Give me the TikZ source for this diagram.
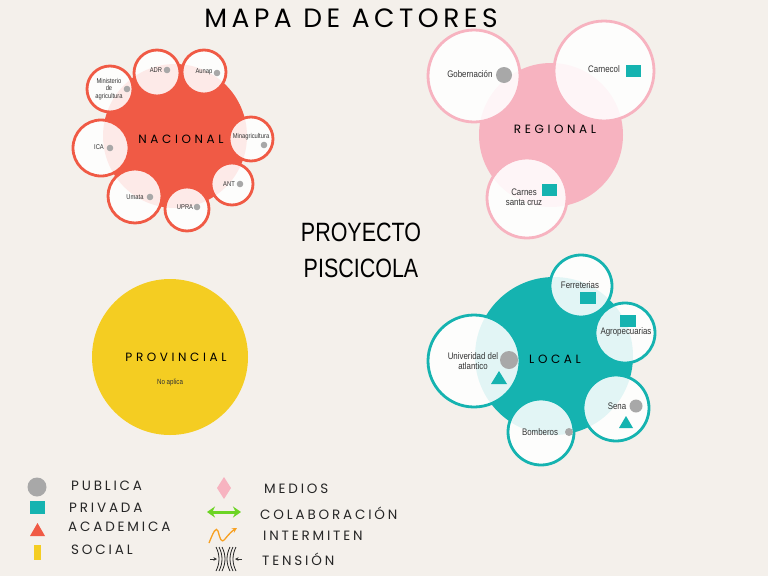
\documentclass[tikz,border=0pt]{standalone}
\usepackage{fontspec}
\setmainfont{Liberation Sans}
\newfontfamily\titlefont[LetterSpace=17]{Poppins}
\newfontfamily\levelfont[LetterSpace=30]{Poppins}
\newfontfamily\legendfont[LetterSpace=21]{Poppins}
\newfontfamily\narrowfont[FakeStretch=0.83]{Liberation Sans}
\newfontfamily\projfont[FakeStretch=0.81]{Liberation Sans}
\usetikzlibrary{arrows.meta}

\definecolor{fondo}{HTML}{F4F0EB}
\definecolor{rojo}{HTML}{F05A45}
\definecolor{rosa}{HTML}{F7B3C0}
\definecolor{turq}{HTML}{15B3B0}
\definecolor{amarillo}{HTML}{F4CD22}
\definecolor{gris}{HTML}{A8A8A8}
\definecolor{verde}{HTML}{6CD424}
\definecolor{naranja}{HTML}{F7A021}

\tikzset{
  level/.style={circle, fill=#1, inner sep=0pt},
  actor/.style={circle, draw=#1, line width=2.8pt, fill=white, fill opacity=0.88, inner sep=0pt},
  leveltext/.style={font=\levelfont\fontsize{12}{12}\selectfont, text=black},
  nactext/.style={font=\narrowfont\fontsize{7}{7.5}\selectfont, align=center, text=black!80},
  actortext/.style={font=\narrowfont\fontsize{9.5}{10}\selectfont, align=center, text=black!80},
  legendtext/.style={font=\legendfont\fontsize{13.5}{14}\selectfont, anchor=west, inner sep=0pt, text=black!85},
}

\begin{document}
\begin{tikzpicture}[x=1pt, y=-1pt]
  \fill[fondo] (0,0) rectangle (768,576);
  \useasboundingbox (0,0) rectangle (768,576);

  % Title
  \node[font=\titlefont\fontsize{26.5}{26.5}\selectfont] (titulo) at (351,18) {MAPA DE ACTORES};
  \node[font=\projfont\fontsize{26.5}{36}\selectfont, align=center] (proyecto) at (361,250) {PROYECTO\\PISCICOLA};

  % Nacional
  \node[level=rojo, minimum size=144pt] (nacional) at (175,136) {};
  \node[actor=rojo, minimum size=46pt] (ministerio) at (110,89) {};
  \node[actor=rojo, minimum size=46pt] (adr) at (157,73) {};
  \node[actor=rojo, minimum size=44pt] (aunap) at (204,72) {};
  \node[actor=rojo, minimum size=44pt] (minagri) at (251,139) {};
  \node[actor=rojo, minimum size=42pt] (ant) at (232,184) {};
  \node[actor=rojo, minimum size=44pt] (upra) at (187,209) {};
  \node[actor=rojo, minimum size=54pt] (umata) at (135,196) {};
  \node[actor=rojo, minimum size=56pt] (ica) at (101,148) {};
  \node[leveltext] (nactxt) at (181,139) {NACIONAL};
  \node[nactext] (ministeriotxt) at (109,89) {Ministerio\\de\\agricultura};
  \node[nactext] (adrtxt) at (156,70) {ADR};
  \node[nactext] (aunaptxt) at (204,72) {Aunap};
  \node[nactext] (minagritxt) at (251,137) {Minagricultura};
  \node[nactext] (anttxt) at (229,184) {ANT};
  \node[nactext] (upratxt) at (185,207) {UPRA};
  \node[nactext] (umatatxt) at (135,197) {Umata};
  \node[nactext] (icatxt) at (99,147) {ICA};
  \foreach \x/\y in {127/89, 167/70, 217/73, 264/145, 240/184, 197/207, 150/197, 110/148}
    \fill[gris] (\x,\y) circle (3.3pt);

  % Regional
  \node[level=rosa, minimum size=144pt] (regional) at (551,135) {};
  \node[actor=rosa, minimum size=92pt] (gobernacion) at (474,76) {};
  \node[actor=rosa, minimum size=100pt] (carnecol) at (604,71) {};
  \node[actor=rosa, minimum size=80pt] (santacruz) at (527,198) {};
  \node[leveltext] (regtxt) at (555,129) {REGIONAL};
  \node[actortext, anchor=east] (gobernaciontxt) at (496,74) {Gobernación};
  \node[actortext] (carnecoltxt) at (604,69) {Carnecol};
  \node[actortext] (santacruztxt) at (524,197) {Carnes\\santa cruz};
  \fill[gris] (504,75) circle (8pt);
  \fill[turq] (626,65) rectangle (641,77);
  \fill[turq] (542,184) rectangle (557,196);

  % Provincial
  \node[level=amarillo, minimum size=156pt] (provincial) at (170,357) {};
  \node[leveltext] (provtxt) at (176,357) {PROVINCIAL};
  \node[font=\narrowfont\fontsize{7.5}{8}\selectfont, text=black!80] (noaplica) at (170,383) {No aplica};

  % Local
  \node[level=turq, minimum size=158pt] (local) at (554,356) {};
  \node[actor=turq, minimum size=62pt] (ferreterias) at (581,286) {};
  \node[actor=turq, minimum size=60pt] (agropecuarias) at (625,333) {};
  \node[actor=turq, minimum size=92pt] (uniatlantico) at (474,361) {};
  \node[actor=turq, minimum size=66pt] (sena) at (616,408) {};
  \node[actor=turq, minimum size=66pt] (bomberos) at (541,432) {};
  \node[leveltext] (loctxt) at (555,359) {LOCAL};
  \node[actortext] (ferreteriastxt) at (580,285) {Ferreterias};
  \node[actortext] (agropecuariastxt) at (626,332) {Agropecuarias};
  \node[actortext] (uniatlanticotxt) at (473,361) {Univeridad del\\atlantico};
  \node[actortext] (senatxt) at (617,406) {Sena};
  \node[actortext] (bomberostxt) at (540,432) {Bomberos};
  \fill[turq] (580,292) rectangle (596,304);
  \fill[turq] (620,315) rectangle (636,327);
  \fill[gris] (509,360) circle (9pt);
  \fill[turq] (491,384) -- (499,371) -- (507,384) -- cycle;
  \fill[gris] (636,406) circle (6.5pt);
  \fill[turq] (619,428) -- (626,416) -- (633,428) -- cycle;
  \fill[gris] (569,432) circle (4pt);

  % Legend
  \fill[gris] (37,487) circle (9.5pt);
  \fill[turq] (30,501) rectangle (45,514);
  \fill[rojo] (30,536) -- (37.5,523) -- (45,536) -- cycle;
  \fill[amarillo] (34,545) rectangle (41,560);
  \node[legendtext] (publica) at (71,486) {PUBLICA};
  \node[legendtext] (privada) at (69,508) {PRIVADA};
  \node[legendtext] (academica) at (68,527) {ACADEMICA};
  \node[legendtext] (social) at (71,550) {SOCIAL};

  \fill[rosa] (224,477) -- (231,488) -- (224,499) -- (217,488) -- cycle;
  \coordinate (colA) at (207,512);
  \coordinate (colB) at (241,512);
  \draw[verde, line width=3pt, {Stealth[length=8pt, width=11pt]}-{Stealth[length=8pt, width=11pt]}] (colA) -- (colB);
  \coordinate (intA) at (209,543);
  \coordinate (intB) at (237,528);
  \draw[naranja, line width=1.3pt, -{Stealth[length=5pt, width=5pt]}] (intA) .. controls (213,533) and (216,526) .. (218,531) .. controls (220,538) and (221,544) .. (225,539) .. controls (229,534) and (232,531) .. (intB);
  \coordinate (tenA) at (210,559);
  \coordinate (tenB) at (242,559);
  \draw[black!80, line width=0.8pt, -{Stealth[length=3.5pt, width=3.5pt]}] (tenA) -- (217,559);
  \draw[black!80, line width=0.8pt, -{Stealth[length=3.5pt, width=3.5pt]}] (tenB) -- (235,559);
  \foreach \dx in {0,3,6}
    \draw[black!85, line width=0.8pt] (216+\dx,547) .. controls (220+\dx,555) and (220+\dx,563) .. (216+\dx,571);
  \foreach \dx in {0,3,6}
    \draw[black!85, line width=0.8pt] (236-\dx,547) .. controls (232-\dx,555) and (232-\dx,563) .. (236-\dx,571);
  \node[legendtext] (medios) at (264,489) {MEDIOS};
  \node[legendtext] (colaboracion) at (260,513) {COLABORACIÓN};
  \node[legendtext] (intermiten) at (263,536) {INTERMITEN};
  \node[legendtext] (tension) at (262,559) {TENSIÓN};
\end{tikzpicture}
\end{document}
